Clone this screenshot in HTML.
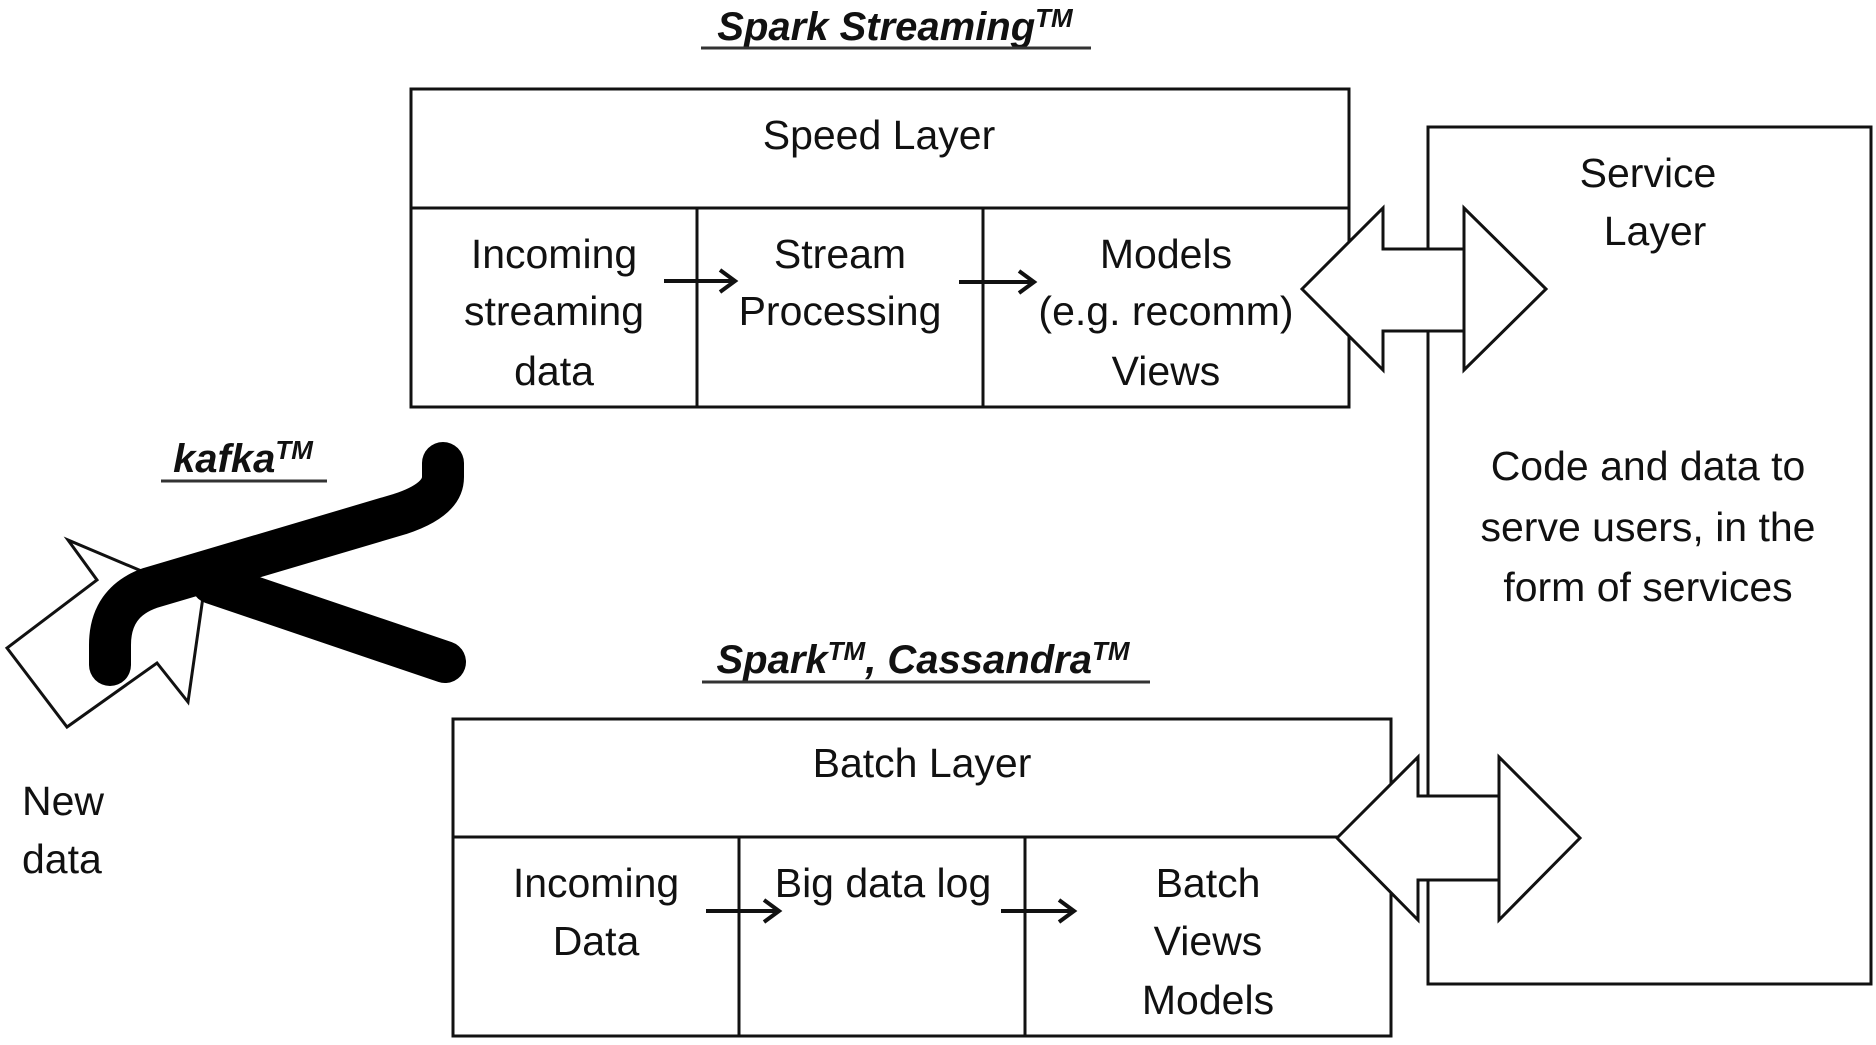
<!DOCTYPE html>
<html><head><meta charset="utf-8"><style>
html,body{margin:0;padding:0;background:#fff;}
svg{display:block;}
text{font-family:"Liberation Sans",sans-serif;fill:#111;}
</style></head><body>
<svg width="1876" height="1045" viewBox="0 0 1876 1045" xmlns="http://www.w3.org/2000/svg">
<g fill="none" stroke="#111" stroke-width="3">
<rect x="411" y="89" width="938" height="318"/>
<line x1="411" y1="208" x2="1349" y2="208"/>
<line x1="697" y1="208" x2="697" y2="407"/>
<line x1="983" y1="208" x2="983" y2="407"/>
<rect x="1428" y="127" width="443" height="857"/>
<rect x="453" y="719" width="938" height="317"/>
<line x1="453" y1="837" x2="1391" y2="837"/>
<line x1="739" y1="837" x2="739" y2="1036"/>
<line x1="1025" y1="837" x2="1025" y2="1036"/>
</g>
<g fill="#fff" stroke="#111" stroke-width="3" stroke-linejoin="miter">
<polygon points="1302,289 1383,208 1383,249 1464,249 1464,208 1546,289 1464,370 1464,331 1383,331 1383,370"/>
<line x1="1464" y1="249" x2="1464" y2="331"/>
<polygon points="1337,838 1418,757 1418,796 1499,796 1499,757 1580,838 1499,920 1499,880 1418,880 1418,920"/>
<line x1="1499" y1="796" x2="1499" y2="880"/>
</g>
<g stroke="#111" stroke-width="4" fill="none">
<line x1="664" y1="281" x2="734" y2="281"/><polyline points="720,270 735,281 720,292"/>
<line x1="959" y1="282" x2="1033" y2="282"/><polyline points="1019,271 1034,282 1019,293"/>
<line x1="706" y1="911" x2="778" y2="911"/><polyline points="764,900 779,911 764,922"/>
<line x1="1001" y1="911" x2="1073" y2="911"/><polyline points="1059,900 1074,911 1059,922"/>
</g>
<polygon points="7,648 67,727 157,663 188,702 203,597 68,540 97,580" fill="#fff" stroke="#111" stroke-width="3"/>
<g fill="none" stroke="#000" stroke-width="42" stroke-linecap="round" stroke-linejoin="round">
<path d="M443,463 L443,477 Q443,500 400,514 L150,588 Q110,602 110,645 L110,665"/>
<path d="M212,583 L445,662"/>
</g>
<g font-style="italic" font-weight="bold" font-size="40">
<text x="895" y="40" text-anchor="middle">Spark Streaming<tspan font-size="26" dy="-13">TM</tspan></text>
<text x="243" y="472" text-anchor="middle">kafka<tspan font-size="26" dy="-13">TM</tspan></text>
<text x="923" y="673" text-anchor="middle">Spark<tspan font-size="26" dy="-13">TM</tspan><tspan dy="13">, Cassandra</tspan><tspan font-size="26" dy="-13">TM</tspan></text>
</g>
<g stroke="#333" stroke-width="3">
<line x1="701" y1="48" x2="1091" y2="48"/>
<line x1="161" y1="481" x2="327" y2="481"/>
<line x1="702" y1="682" x2="1150" y2="682"/>
</g>
<g font-size="41" text-anchor="middle">
<text x="879" y="149">Speed Layer</text>
<text x="554" y="268">Incoming</text><text x="554" y="325">streaming</text><text x="554" y="385">data</text>
<text x="840" y="268">Stream</text><text x="840" y="325">Processing</text>
<text x="1166" y="268">Models</text><text x="1166" y="325">(e.g. recomm)</text><text x="1166" y="385">Views</text>
<text x="1648" y="187">Service</text><text x="1655" y="245">Layer</text>
<text x="1648" y="480">Code and data to</text><text x="1648" y="541">serve users, in the</text><text x="1648" y="601">form of services</text>
<text x="922" y="777">Batch Layer</text>
<text x="596" y="897">Incoming</text><text x="596" y="955">Data</text>
<text x="883" y="897">Big data log</text>
<text x="1208" y="897">Batch</text><text x="1208" y="955">Views</text><text x="1208" y="1014">Models</text>
</g>
<g font-size="41">
<text x="22" y="815">New</text><text x="22" y="873">data</text>
</g>
</svg>
</body></html>
